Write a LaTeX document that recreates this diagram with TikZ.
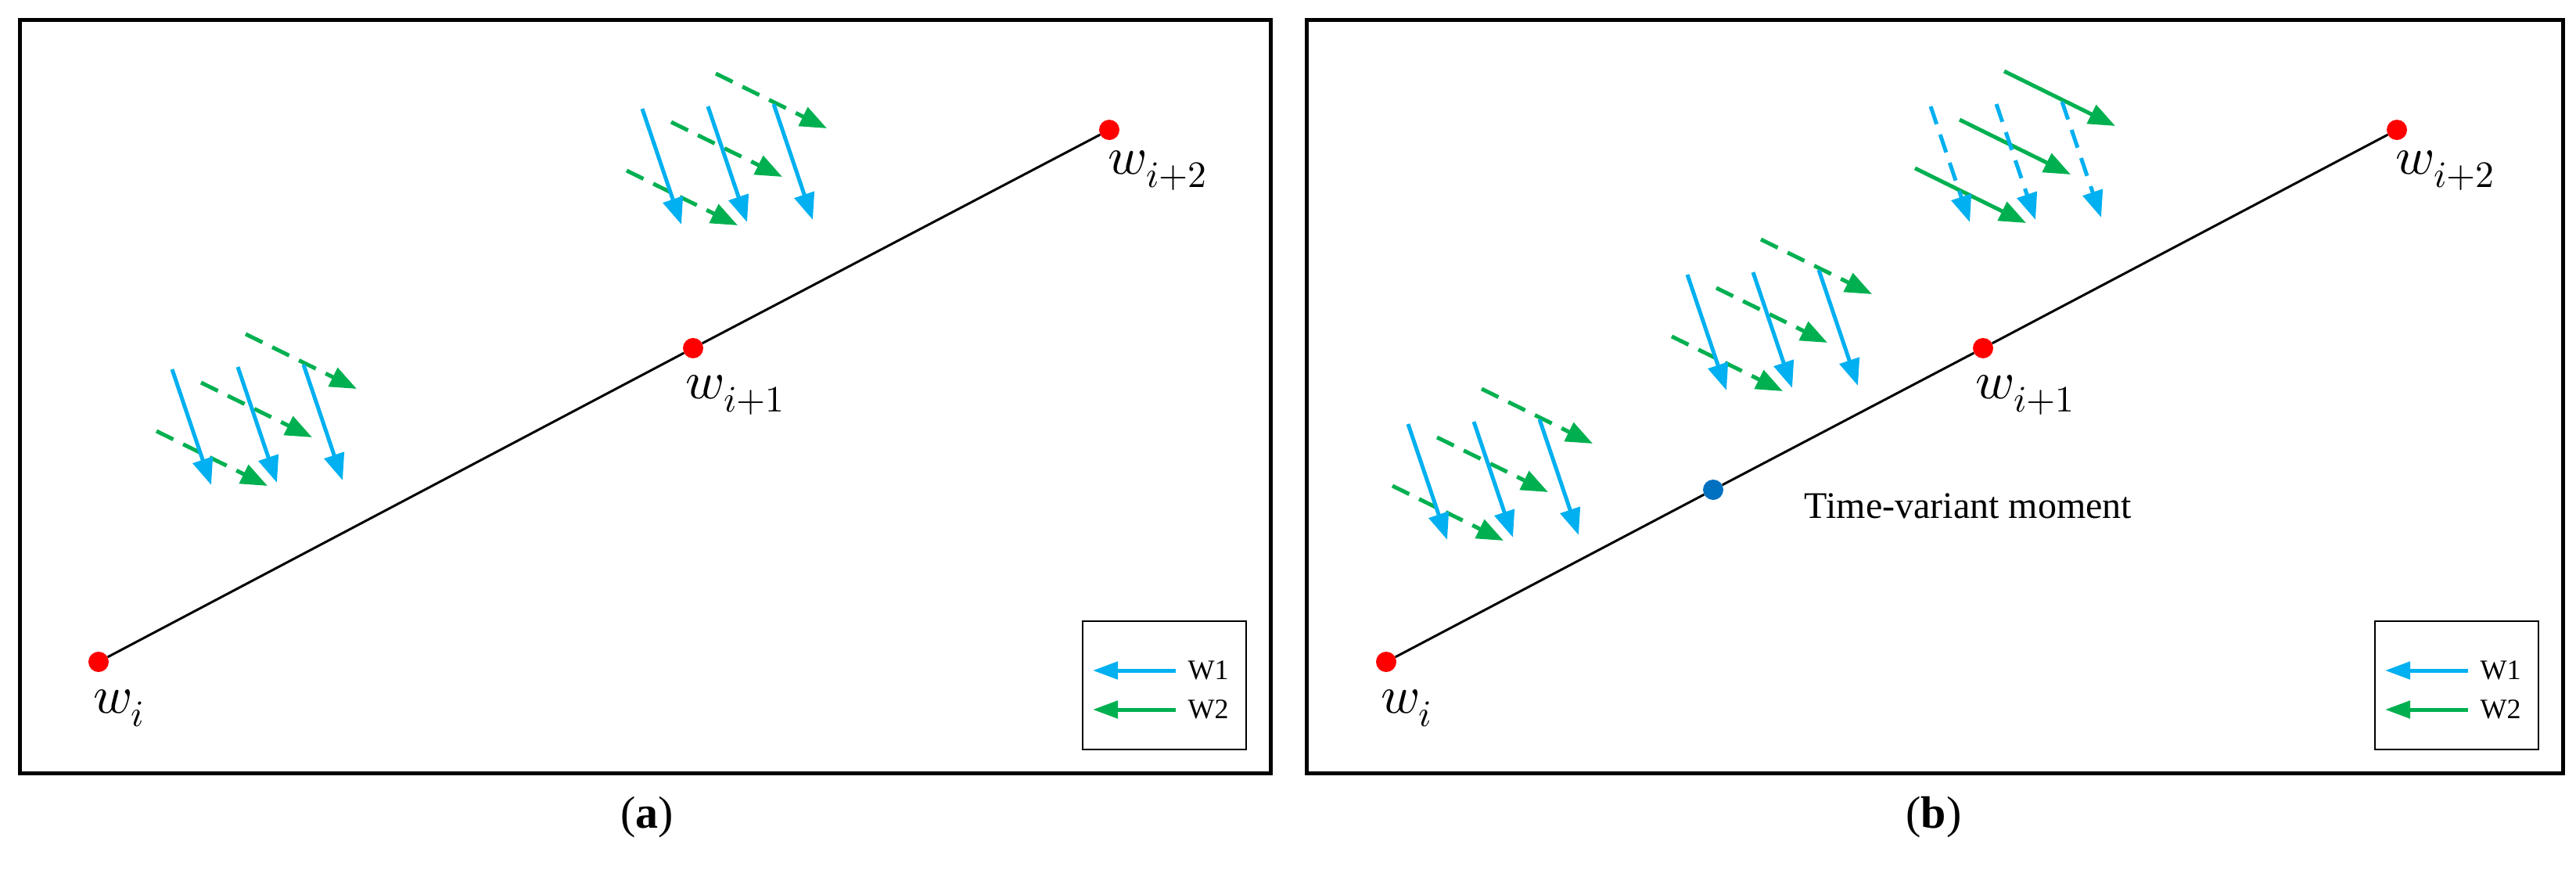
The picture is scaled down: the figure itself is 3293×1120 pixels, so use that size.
\documentclass[tikz,border=0pt]{standalone}
\usepackage{fontspec}
\setmainfont{Liberation Serif}
\usepackage{unicode-math}
\usetikzlibrary{arrows.meta}
\definecolor{wone}{RGB}{0,176,240}
\definecolor{wtwo}{RGB}{0,176,80}
\definecolor{dotred}{RGB}{255,0,0}
\definecolor{dotblue}{RGB}{0,112,192}
\tikzset{
  frame/.style={draw,line width=5pt},
  warr/.style={line width=5pt,-{Triangle[length=34pt,width=26pt]}},
  wdash/.style={warr,dash pattern=on 24pt off 14pt},
  dot/.style={circle,fill=dotred,inner sep=0pt,minimum size=26pt},
  lbl/.style={font=\fontsize{68}{72}\selectfont},
  captxt/.style={font=\fontsize{58}{62}\selectfont},
}
\newcommand{\windgroup}[4]{% shift x, shift y, blue style, green style
  \begin{scope}[shift={(#1,#2)}]
    \foreach \i in {0,1,2}{
      \draw[#4,wtwo] ({200+57*\i},{551-62*\i}) -- ++(142,70);
      \draw[#3,wone] ({220+84*\i},{472-3*\i}) -- ++(50,148);
    }
  \end{scope}}
\newcommand{\legendbox}[1]{%
  \begin{scope}[shift={(#1,0)}]
    \draw[line width=2pt] (1384,794) rectangle (1593,958);
    \draw[line width=5pt,wone,-{Triangle[length=32pt,width=22pt]}] (1503,857) -- (1397,857);
    \draw[line width=5pt,wtwo,-{Triangle[length=32pt,width=22pt]}] (1503,907) -- (1397,907);
    \node[anchor=west,font=\fontsize{36}{38}\selectfont] at (1515,857) {W1};
    \node[anchor=west,font=\fontsize{36}{38}\selectfont] at (1515,907) {W2};
  \end{scope}}
\begin{document}
\begin{tikzpicture}[x=1pt,y=-1pt]
\useasboundingbox (0,0) rectangle (3293,1120);
\fill[white] (0,0) rectangle (3293,1120);
% panel a
\draw[frame] (25,25) rectangle (1624,988);
\node[dot] (a1) at (126,846) {};
\node[dot] (a2) at (886,445) {};
\node[dot] (a3) at (1418,166) {};
\draw[line width=3pt] (a1) -- (a2) -- (a3);
\windgroup{0}{0}{warr}{wdash}
\windgroup{601}{-333}{warr}{wdash}
\node[lbl] at (152,905) {$w_i$};
\node[lbl] at (940,505) {$w_{i+1}$};
\node[lbl] at (1480,218) {$w_{i+2}$};
\legendbox{0}
\node[captxt] (capa) at (827,1045) {(\textbf{a})};
% panel b
\draw[frame] (1670,25) rectangle (3276,988);
\node[dot] (b1) at (1772,846) {};
\node[dot,fill=dotblue] (bm) at (2190,626) {};
\node[dot] (b2) at (2535,445) {};
\node[dot] (b3) at (3064,166) {};
\draw[line width=3pt] (b1) -- (bm) -- (b2) -- (b3);
\windgroup{1580}{70}{warr}{wdash}
\windgroup{1937}{-121}{warr}{wdash}
\windgroup{2248}{-336}{wdash}{warr}
\node[lbl] at (1798,905) {$w_i$};
\node[lbl] at (2589,505) {$w_{i+1}$};
\node[lbl] at (3126,218) {$w_{i+2}$};
\node[font=\fontsize{48}{52}\selectfont] (tv) at (2516,647) {Time-variant moment};
\legendbox{1652}
\node[captxt] (capb) at (2472,1045) {(\textbf{b})};
\end{tikzpicture}
\end{document}
